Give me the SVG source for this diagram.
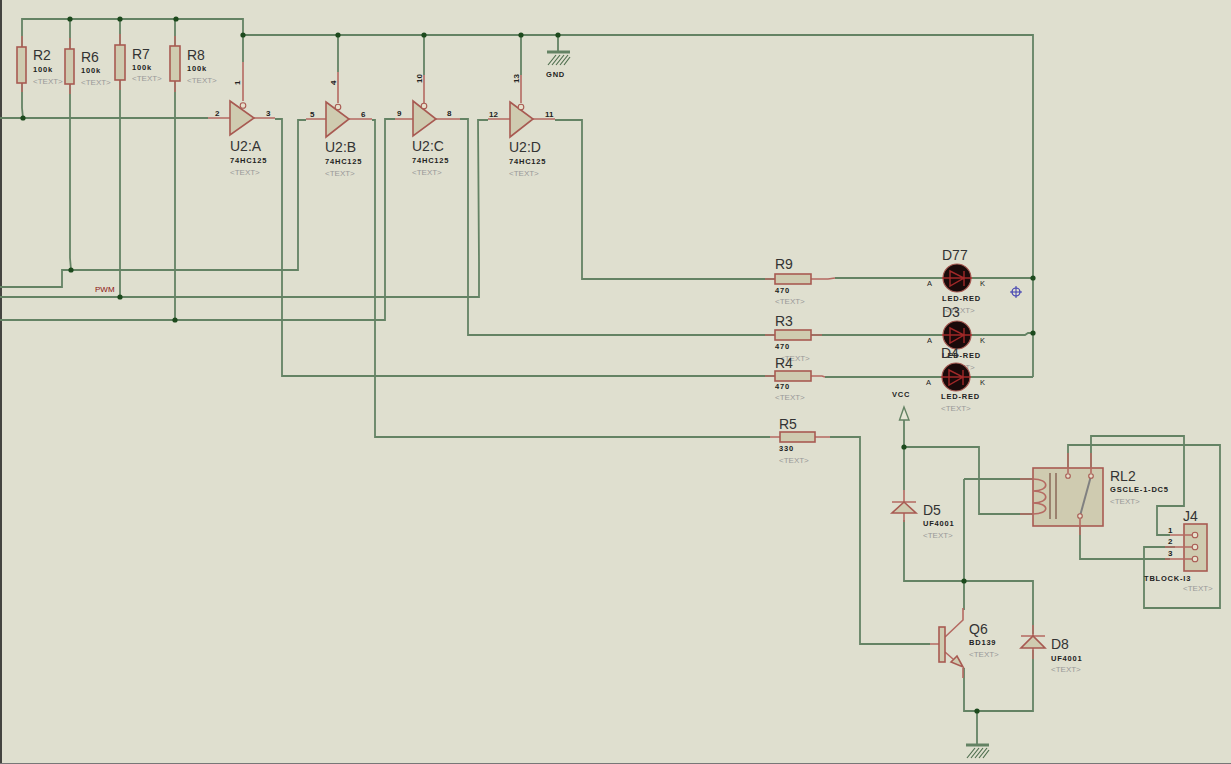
<svg xmlns="http://www.w3.org/2000/svg" width="1231" height="764" viewBox="0 0 1231 764">
<style>
text{font-family:"Liberation Sans",Arial,sans-serif}
.w{fill:none;stroke:#648364;stroke-width:1.8}
.p{fill:none;stroke:#b56a62;stroke-width:1.6}
.b{fill:#cfcbb0;stroke:#a85a52;stroke-width:1.6}
.c{fill:#e6e0cc;stroke:#a85a52;stroke-width:1.1}
.d{fill:#1d4a1d}
.n{font-size:14px;fill:#333}
.v{font-size:7.5px;font-weight:bold;fill:#222;letter-spacing:.8px}
.t{font-size:8px;fill:#999}
.l{font-size:7.5px;fill:#222;letter-spacing:.6px}
.s{font-size:8px;font-weight:bold;fill:#222}
.led{fill:#1a0a0a;stroke:#a85a52;stroke-width:1.2}
.m{fill:none;stroke:#a02828;stroke-width:1.4}
</style>
<defs>
<g id="hatch"><path d="M-11 0H12" stroke="#648364" stroke-width="3" fill="none"/><path d="M-10 13L-2 3M-6 13L2 3M-2 13L6 3M2 13L10 3M6 13L12 5" stroke="#4f6f4f" stroke-width="1.2" fill="none"/></g>
<circle id="dot" r="2.6" class="d"/>
</defs>
<rect width="1231" height="764" fill="#dfdfcf"/>
<path d="M1 0V764" stroke="#111" stroke-width="1.5"/>
<path d="M0 763.500H1231" stroke="#777" stroke-width="1"/>
<g id="connectors">
<path class="w" d="M22 47V19H243V62M243 35H1033V377M22 83V108L23 118M0 118H208M70 19V49M70 84V258L71 270M120 19V45M120 80V297M175 19V46M175 81V320"/>
<path class="w" d="M0 287H62V270H298V120H306M0 297H479V262L478 120H488M0 320H385V119H395"/>
<path class="w" d="M275 119H282V376H775M372 120H375V437H770M460 119H468V335H775M555 120H582V279H775"/>
<path class="w" d="M338 35V72M424 35V75M521 35V75M558 35V52"/>
<path class="w" d="M835 278H942M972 278H1033M790 335H942M972 335H1025L1028 333H1033M825 377H941M971 377H1033M830 437H860V644H930"/>
<path class="w" d="M904 420V490M904 520V581H1033V634M904 447H979V514H1033M964 479H1033M964 479V610M964 668V711H1033V650M977 711V745"/>
<path class="w" d="M1068 468V445H1220V608H1144V547H1175M1091 468V436H1184V506H1157V535H1170M1080 526V559H1170"/>
<g class="d">
<use href="#dot" x="70" y="19"/><use href="#dot" x="120" y="19"/><use href="#dot" x="176" y="19"/><use href="#dot" x="243" y="35"/>
<use href="#dot" x="23" y="118"/><use href="#dot" x="71" y="270"/><use href="#dot" x="120" y="297"/><use href="#dot" x="175" y="320"/>
<use href="#dot" x="338" y="35"/><use href="#dot" x="424" y="35"/><use href="#dot" x="521" y="35"/><use href="#dot" x="558" y="35"/>
<use href="#dot" x="1033" y="278"/><use href="#dot" x="1033" y="333"/><use href="#dot" x="904" y="447"/><use href="#dot" x="964" y="581"/><use href="#dot" x="977" y="711"/>
</g>
</g>
<g id="R2"><path class="p" d="M22 36V47M22 83V92"/><rect class="b" x="17" y="47" width="9" height="36"/><text class="n" x="33" y="60">R2</text><text class="v" x="33" y="72">100k</text><text class="t" x="33" y="84">&lt;TEXT&gt;</text></g>
<g id="R6"><path class="p" d="M70 38V49M70 84V94"/><rect class="b" x="65" y="49" width="9" height="35"/><text class="n" x="81" y="62">R6</text><text class="v" x="81" y="73">100k</text><text class="t" x="81" y="85">&lt;TEXT&gt;</text></g>
<g id="R7"><path class="p" d="M120 34V45M120 80V90"/><rect class="b" x="115" y="45" width="10" height="35"/><text class="n" x="132" y="59">R7</text><text class="v" x="132" y="70">100k</text><text class="t" x="132" y="81">&lt;TEXT&gt;</text></g>
<g id="R8"><path class="p" d="M175 36V46M175 81V92"/><rect class="b" x="170" y="46" width="10" height="35"/><text class="n" x="187" y="60">R8</text><text class="v" x="187" y="71">100k</text><text class="t" x="187" y="83">&lt;TEXT&gt;</text></g>
<g id="U2A"><path class="p" d="M208 118H230M254 118H275M243 62V101"/><path class="b" d="M230 101L254 118L230 135Z"/><circle class="c" cx="243" cy="105.500" r="2.800"/><text class="n" x="230" y="151">U2:A</text><text class="v" x="230" y="163">74HC125</text><text class="t" x="230" y="175">&lt;TEXT&gt;</text><text class="s" x="215" y="116">2</text><text class="s" x="266" y="116">3</text><text class="s" transform="translate(240 85) rotate(-90)">1</text></g>
<g id="U2B"><path class="p" d="M306 119H326M349 119H372M338 72V103"/><path class="b" d="M326 102L349 119L326 137Z"/><circle class="c" cx="338" cy="107" r="2.800"/><text class="n" x="325" y="152">U2:B</text><text class="v" x="325" y="164">74HC125</text><text class="t" x="325" y="176">&lt;TEXT&gt;</text><text class="s" x="310" y="117">5</text><text class="s" x="361" y="117">6</text><text class="s" transform="translate(336 85) rotate(-90)">4</text></g>
<g id="U2C"><path class="p" d="M395 119H413M436 119H460M424 75V103"/><path class="b" d="M413 101L436 119L413 136Z"/><circle class="c" cx="424" cy="106" r="2.800"/><text class="n" x="412" y="151">U2:C</text><text class="v" x="412" y="163">74HC125</text><text class="t" x="412" y="175">&lt;TEXT&gt;</text><text class="s" x="397" y="116">9</text><text class="s" x="447" y="116">8</text><text class="s" transform="translate(422 83) rotate(-90)">10</text></g>
<g id="U2D"><path class="p" d="M488 119H510M533 119H555M521 75V103"/><path class="b" d="M510 102L533 119L510 137Z"/><circle class="c" cx="521" cy="107" r="2.800"/><text class="n" x="509" y="152">U2:D</text><text class="v" x="509" y="164">74HC125</text><text class="t" x="509" y="176">&lt;TEXT&gt;</text><text class="s" x="489" y="117">12</text><text class="s" x="545" y="117">11</text><text class="s" transform="translate(519 83) rotate(-90)">13</text></g>
<g id="GND"><use href="#hatch" x="558" y="52"/><text class="v" x="546" y="77">GND</text></g>
<g id="PWM"><text x="95" y="292" font-size="8" fill="#8b1010">PWM</text></g>
<g id="R9"><path class="p" d="M765 279H775M811 279H828L835 278"/><rect class="b" x="775" y="274" width="36" height="10"/><text class="n" x="775" y="269">R9</text><text class="v" x="775" y="293">470</text><text class="t" x="775" y="304">&lt;TEXT&gt;</text></g>
<g id="R3"><path class="p" d="M765 335H775M811 335H822"/><rect class="b" x="775" y="330" width="36" height="10"/><text class="n" x="775" y="326">R3</text><text class="v" x="775" y="349">470</text><text class="t" x="780" y="361">&lt;TEXT&gt;</text></g>
<g id="R4"><path class="p" d="M765 376H775M811 376H822L825 377"/><rect class="b" x="775" y="371" width="36" height="10"/><text class="n" x="775" y="368">R4</text><text class="v" x="775" y="389">470</text><text class="t" x="775" y="400">&lt;TEXT&gt;</text></g>
<g id="R5"><path class="p" d="M770 437H780M815 437H830"/><rect class="b" x="780" y="432" width="35" height="10"/><text class="n" x="779" y="429">R5</text><text class="v" x="779" y="451">330</text><text class="t" x="779" y="463">&lt;TEXT&gt;</text></g>
<g id="D77"><circle class="led" cx="957" cy="278" r="14"/><path class="m" d="M942 278H972M950 271L964 278L950 286ZM964 271V286"/><text class="n" x="942" y="260">D77</text><text class="l" x="927" y="286">A</text><text class="l" x="980" y="286">K</text><text class="v" x="942" y="301">LED-RED</text><text class="t" x="945" y="313">&lt;TEXT&gt;</text></g>
<g id="D3"><circle class="led" cx="957" cy="335" r="14"/><path class="m" d="M942 335H972M950 328L964 335L950 343ZM964 328V343"/><text class="n" x="942" y="317">D3</text><text class="l" x="927" y="343">A</text><text class="l" x="980" y="343">K</text><text class="v" x="942" y="358">LED-RED</text><text class="t" x="945" y="370">&lt;TEXT&gt;</text></g>
<g id="D4"><circle class="led" cx="956" cy="377" r="14"/><path class="m" d="M941 377H971M949 370L963 377L949 385ZM963 370V385"/><text class="n" x="941" y="358">D4</text><text class="l" x="926" y="385">A</text><text class="l" x="980" y="385">K</text><text class="v" x="941" y="399">LED-RED</text><text class="t" x="941" y="411">&lt;TEXT&gt;</text></g>
<g id="cursor"><circle cx="1016" cy="292" r="4" fill="none" stroke="#3a3ab0" stroke-width="1.2"/><path d="M1010 292H1022M1016 286V298" stroke="#3a3ab0" stroke-width="1" fill="none"/></g>
<g id="VCC"><path d="M904 407L899.500 420H909Z" fill="#e6e6d6" stroke="#648364" stroke-width="1.4"/><text class="v" x="892" y="397">VCC</text></g>
<g id="D5"><path class="p" d="M904 490V502M904 513V522M892 502H916"/><path class="b" d="M892 513H916L904 502Z"/><text class="n" x="923" y="515">D5</text><text class="v" x="923" y="526">UF4001</text><text class="t" x="923" y="538">&lt;TEXT&gt;</text></g>
<g id="D8"><path class="p" d="M1033 625V636M1033 648V659M1021 636H1045"/><path class="b" d="M1021 648H1045L1033 636Z"/><text class="n" x="1051" y="649">D8</text><text class="v" x="1051" y="661">UF4001</text><text class="t" x="1051" y="672">&lt;TEXT&gt;</text></g>
<g id="Q6"><path class="p" d="M930 644H939M945 637L963 620V608M945 652L953 659M963 668V678"/><rect class="b" x="939" y="627" width="6" height="35"/><path class="b" d="M951 662L957 656L963 667Z"/><text class="n" x="969" y="634">Q6</text><text class="v" x="969" y="645">BD139</text><text class="t" x="969" y="657">&lt;TEXT&gt;</text></g>
<g id="GND2"><use href="#hatch" x="977" y="745"/></g>
<g id="RL2"><rect class="b" x="1033" y="468" width="70" height="58"/><path class="p" d="M1020 479H1033C1050 479 1050 491 1033 491C1050 491 1050 503 1033 503C1050 503 1050 514 1033 514H1020"/><path d="M1050 473V519M1056 473V519" stroke="#8a6a58" stroke-width="1.500" fill="none"/><path d="M1091 476L1080 516" stroke="#808080" stroke-width="2" fill="none"/><path class="p" d="M1068 453V473M1091 453V473M1080 519V535"/><circle class="c" cx="1068" cy="476" r="2.300"/><circle class="c" cx="1091" cy="476" r="2.300"/><circle class="c" cx="1080" cy="516" r="2.300"/><text class="n" x="1110" y="481">RL2</text><text class="v" x="1110" y="492">GSCLE-1-DC5</text><text class="t" x="1110" y="504">&lt;TEXT&gt;</text></g>
<g id="J4"><rect class="b" x="1184" y="524" width="23" height="47"/><path class="p" d="M1170 535H1192M1165 547H1192M1165 559H1192"/><circle class="c" cx="1195" cy="535" r="2.800"/><circle class="c" cx="1195" cy="547" r="2.800"/><circle class="c" cx="1195" cy="559" r="2.800"/><text class="s" x="1168" y="533">1</text><text class="s" x="1168" y="544">2</text><text class="s" x="1168" y="556">3</text><text class="n" x="1183" y="521">J4</text><text class="v" x="1144" y="581">TBLOCK-I3</text><text class="t" x="1183" y="591">&lt;TEXT&gt;</text></g>
</svg>
